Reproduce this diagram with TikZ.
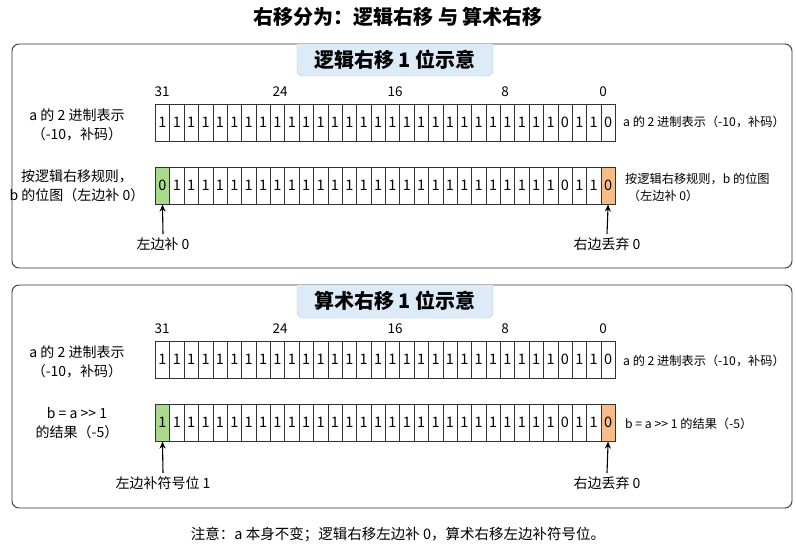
\documentclass[tikz,border=0pt]{standalone}
\usepackage{fontspec}
\setmainfont{Noto Sans CJK SC}
\usetikzlibrary{arrows.meta}
\definecolor{gfill}{HTML}{A9D98C}
\definecolor{ofill}{HTML}{F6BC8A}
\definecolor{tabfill}{HTML}{DDEAF8}
\definecolor{tabline}{HTML}{B5CBE6}
\tikzset{
  panel/.style={draw=black!80, line width=0.9pt, rounded corners=7pt},
  cell/.style={draw=black!80, line width=0.6pt, minimum width=14.375pt, minimum height=37pt, inner sep=0pt, font=\fontsize{14.5}{14}\selectfont, anchor=north west},
  lbl/.style={font=\fontsize{14}{19}\selectfont, align=center},
  rlbl/.style={font=\fontsize{12.2}{17}\selectfont, align=left, anchor=west, inner sep=1pt},
  num/.style={font=\fontsize{13.5}{13}\selectfont},
  arr/.style={-{Stealth[length=7pt,width=6pt]}, line width=1.1pt},
  tabtxt/.style={font=\fontsize{20}{20}\selectfont\bfseries}
}
\newcommand{\bitrow}[4]{% name, y top, first bit, first fill
  \node[cell, fill=#4] (#1-0) at (155, #2) {#3};
  \foreach \b [count=\i from 1] in {1,1,1,1,1,1,1,1,1,1,1,1,1,1,1,1,1,1,1,1,1,1,1,1,1,1,1,0,1,1}{
    \node[cell] (#1-\i) at (155+\i*14.375, #2) {\b};
  }
}
\begin{document}
\begin{tikzpicture}[x=1pt,y=-1pt]
\useasboundingbox (0,0) rectangle (796,551);
\fill[white] (0,0) rectangle (796,551);
\node[font=\fontsize{20}{20}\selectfont\bfseries] (title) at (398,17) {右移分为：逻辑右移 与 算术右移};
% ---------- panel 1
\draw[panel] (12,44) rectangle (792,268);
\draw[fill=tabfill, draw=tabline, rounded corners=6pt] (297,44) -- (297,76) -- (493,76) -- (493,44);
\node[tabtxt] (t1) at (395,60) {逻辑右移 1 位示意};
\foreach \n/\x in {31/162,24/280,16/395,8/505,0/603}{\node[num] (p1n\n) at (\x,92) {\n};}
\bitrow{a1}{104}{1}{white}
\node[cell] (a1-31) at (155+31*14.375,104) {0};
\bitrow{b1}{167}{0}{gfill}
\node[cell, fill=ofill] (b1-31) at (155+31*14.375,167) {0};
\node[lbl] (la1) at (77,125) {a 的 2 进制表示\\（-10，补码）};
\node[lbl] (lb1) at (77,186) {按逻辑右移规则，\\b 的位图（左边补 0）};
\node[rlbl] (ra1) at (622,122) {a 的 2 进制表示（-10，补码）};
\node[rlbl] (rb1) at (624,187) {按逻辑右移规则，b 的位图\\\ （左边补 0）};
\node[lbl] (bl1) at (163,244) {左边补 0};
\node[lbl] (br1) at (607,244) {右边丢弃 0};
\draw[arr] (bl1.north) -- (b1-0.south);
\draw[arr] (br1.north) -- (b1-31.south);
% ---------- panel 2
\draw[panel] (12,285) rectangle (792,508);
\draw[fill=tabfill, draw=tabline, rounded corners=6pt] (297,285) -- (297,318) -- (493,318) -- (493,285);
\node[tabtxt] (t2) at (395,301) {算术右移 1 位示意};
\foreach \n/\x in {31/162,24/280,16/395,8/505,0/603}{\node[num] (p2n\n) at (\x,329) {\n};}
\bitrow{a2}{341}{1}{white}
\node[cell] (a2-31) at (155+31*14.375,341) {0};
\bitrow{b2}{404}{1}{gfill}
\node[cell, fill=ofill] (b2-31) at (155+31*14.375,404) {0};
\node[lbl] (la2) at (77,362) {a 的 2 进制表示\\（-10，补码）};
\node[lbl] (lb2) at (77,423) {b = a {>}{>} 1\\的结果（-5）};
\node[rlbl] (ra2) at (622,361) {a 的 2 进制表示（-10，补码）};
\node[rlbl] (rb2) at (624,424) {b = a {>}{>} 1 的结果（-5）};
\node[lbl] (bl2) at (163,483) {左边补符号位 1};
\node[lbl] (br2) at (607,483) {右边丢弃 0};
\draw[arr] (bl2.north) -- (b2-0.south);
\draw[arr] (br2.north) -- (b2-31.south);
\node[font=\fontsize{14.5}{14}\selectfont] (foot) at (398,535) {注意：a 本身不变；逻辑右移左边补 0，算术右移左边补符号位。};
\end{tikzpicture}
\end{document}
